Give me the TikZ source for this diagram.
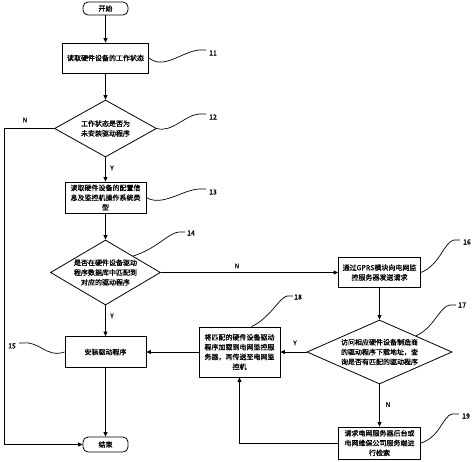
\documentclass[tikz,border=0pt]{standalone}
\usepackage{fontspec}
\setmainfont{Noto Sans CJK SC}[FakeBold=1]
\usetikzlibrary{shapes.geometric,arrows.meta}
\begin{document}
\begin{tikzpicture}[x=1pt,y=-1pt, line width=0.8pt,
  font=\fontsize{7}{9.8}\selectfont,
  box/.style={draw, rectangle, inner sep=0pt, align=center},
  dia/.style={draw, diamond, inner sep=0pt},
  term/.style={draw, rounded corners=5pt, inner sep=0pt},
  txt/.style={inner sep=0pt, align=center},
  arr/.style={-{Triangle[length=4.5pt,width=4pt]}},
  wavy/.style={line width=0.7pt},
  num/.style={inner sep=0pt, font=\fontsize{7}{8}\selectfont},
  yn/.style={inner sep=0pt, font=\fontsize{6.5}{8}\selectfont}]
\useasboundingbox[fill=white] (0,0) rectangle (474,461);

% main column
\node[term, minimum width=45pt, minimum height=13pt] (start) at (105.5,8.5) {开始};
\node[box, minimum width=86pt, minimum height=30pt] (b11) at (105.5,58) {读取硬件设备的工作状态};
\node[dia, minimum width=102pt, minimum height=57pt] (d12) at (105.5,128.5) {};
\node[txt] at (d12) {工作状态是否为\\未安装驱动程序};
\node[box, minimum width=81pt, minimum height=31pt] (b13) at (105.5,197.5) {读取硬件设备的配置信\\息及监控机操作系统类\\型};
\node[dia, minimum width=110pt, minimum height=65pt] (d14) at (105.5,272.5) {};
\node[txt] at (d14) {是否在硬件设备驱动\\程序数据库中匹配到\\对应的驱动程序};
\node[box, minimum width=81pt, minimum height=31pt] (b15) at (105.5,352) {安装驱动程序};
\node[term, minimum width=45pt, minimum height=15pt] (end) at (105.5,444.5) {结束};

% right column
\node[box, minimum width=82pt, minimum height=30pt] (b16) at (379.5,272.5) {通过GPRS模块向电网监\\控服务器发送请求};
\node[dia, minimum width=145pt, minimum height=64pt] (d17) at (379.5,352) {};
\node[txt] at (d17) {访问相应硬件设备制造商\\的驱动程序下载地址，查\\询是否有匹配的驱动程序};
\node[box, minimum width=81pt, minimum height=50pt] (b18) at (239.5,352) {将匹配的硬件设备驱动\\程序加载到电网监控服\\务器，再传送至电网监\\控机};
\node[box, minimum width=82pt, minimum height=32pt] (b19) at (379.5,443) {请求电网服务器后台或\\电网维保公司服务端进\\行检索};
\draw[line width=1.8pt] (b19.south west) -- (b19.south east);

% connectors
\draw[arr] (start) -- (b11);
\draw[arr] (b11) -- (d12);
\draw[arr] (d12) -- (b13);
\draw[arr] (b13) -- (d14);
\draw[arr] (d14) -- (b15);
\draw[arr] (b15) -- (end);
\draw[arr] (d12.west) -- ++(-49.5,0) |- (end.west);
\draw[arr] (d14.east) -- (b16.west);
\draw[arr] (b16) -- (d17);
\draw[arr] (d17.west) -- (b18.east);
\draw[arr] (b18.west) -- (b15.east);
\draw[arr] (d17) -- (b19);
\draw[arr] (b19.west) -| (b18.south);

% Y / N labels
\node[yn] (n1) at (25,120) {N};
\node[yn] (y1) at (112,168) {Y};
\node[yn] (n2) at (237,266) {N};
\node[yn] (y2) at (112,316) {Y};
\node[yn] (y3) at (295,343) {Y};
\node[yn] (n3) at (388,404.5) {N};

% reference numbers and leaders
\node[num] (l11) at (213,53) {11};
\node[num] (l12) at (213,117) {12};
\node[num] (l13) at (213,192) {13};
\node[num] (l14) at (191,233) {14};
\node[num] (l15) at (12,346) {15};
\node[num] (l16) at (467,242) {16};
\node[num] (l17) at (462,305) {17};
\node[num] (l18) at (298,297) {18};
\node[num] (l19) at (466,416) {19};

\draw[wavy] (b11.east) .. controls (164,70) and (181,52) .. (199,50) -- (206,50);
\draw[wavy] (d12.east) .. controls (172,133) and (185,115) .. (199,114) -- (206,114);
\draw[wavy] (b13.east) .. controls (162,207) and (182,190) .. (199,189) -- (206,189);
\draw[wavy] (d14.north east) .. controls (158,248) and (168,233) .. (179,232) -- (185,232);
\draw[wavy] (19,343) -- (23,343) .. controls (40,341) and (46,358) .. (b15.west);
\draw[wavy] (b16.east) .. controls (440,265) and (444,242) .. (454,240) -- (460,240);
\draw[wavy] (d17.north east) .. controls (434,328) and (440,306) .. (450,305) -- (456,305);
\draw[wavy] ([xshift=12pt]b18.north) .. controls (270,318) and (279,298) .. (287,296) -- (293,296);
\draw[wavy] (b19.east) .. controls (440,437) and (443,416) .. (452,414) -- (459,414);
\end{tikzpicture}
\end{document}
